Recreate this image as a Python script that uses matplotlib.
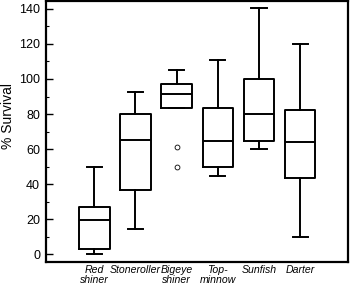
import matplotlib
matplotlib.use("Agg")
import matplotlib.pyplot as plt
from matplotlib.ticker import MultipleLocator

plt.rcParams['font.family'] = ['Liberation Sans', 'DejaVu Sans']

categories = ["Red\nshiner", "Stoneroller", "Bigeye\nshiner", "Top-\nminnow", "Sunfish", "Darter"]
whislo = [0, 14.6, 83.2, 44.6, 60.2, 10]
q1 = [3.2, 36.8, 83.2, 50, 64.7, 43.3]
med = [19.7, 65.3, 91.3, 64.4, 80, 64]
q3 = [26.8, 80.3, 97.4, 83.2, 99.9, 82.4]
whishi = [50, 92.6, 105.4, 111.1, 140.2, 120]
fliers = [[], [], [61, 50], [], [], []]

stats = []
for i, lab in enumerate(categories):
    stats.append(dict(label=lab, whislo=whislo[i], q1=q1[i], med=med[i],
                      q3=q3[i], whishi=whishi[i], fliers=fliers[i]))

fig = plt.figure(figsize=(3.5, 2.87), dpi=100)
ax = fig.add_axes([0.1306, 0.088, 0.8634, 0.9075])

lw = 1.4
ax.bxp(stats, positions=range(1, 7), widths=0.74, showfliers=True,
       boxprops=dict(color='black', linewidth=lw),
       medianprops=dict(color='black', linewidth=lw),
       whiskerprops=dict(color='black', linewidth=lw),
       capprops=dict(color='black', linewidth=lw),
       flierprops=dict(marker='o', markersize=3.5, markerfacecolor='white',
                       markeredgecolor='black', markeredgewidth=0.6))

ax.set_xlim(-0.18, 7.16)
ax.set_ylim(-4.2, 144.3)
ax.yaxis.set_major_locator(MultipleLocator(20))
ax.yaxis.set_minor_locator(MultipleLocator(10))
ax.tick_params(axis='y', which='major', direction='in', length=5, width=1.0,
               labelsize=9, pad=4)
ax.tick_params(axis='y', which='minor', direction='in', length=2.5, width=0.8)
ax.tick_params(axis='x', length=0, labelsize=7.6, pad=2.5)
for t in ax.get_xticklabels():
    t.set_fontstyle('italic')
    t.set_linespacing(0.95)
for s in ax.spines.values():
    s.set_linewidth(1.6)
ax.set_ylabel("% Survival", fontsize=10)
ax.yaxis.set_label_coords(-0.102, 0.561)

fig.savefig("out.png", dpi=100)
